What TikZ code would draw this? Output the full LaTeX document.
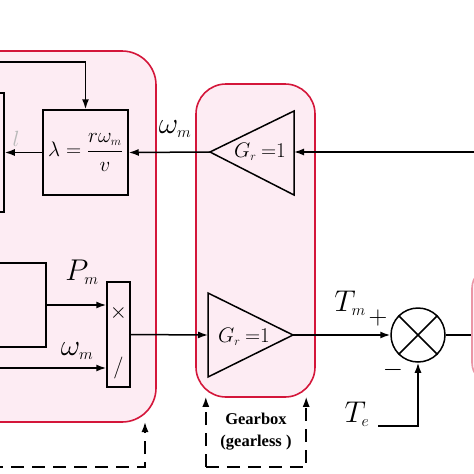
\RequirePackage{fix-cm}
\documentclass[tikz,border=0pt]{standalone}
\usepackage{fontspec}
\setmainfont{Liberation Serif}
\usetikzlibrary{arrows.meta, positioning, calc}
\definecolor{panelpink}{RGB}{253,236,243}
\definecolor{panelred}{RGB}{212,22,58}
\DeclareMathSizes{30}{30}{16}{12}
\DeclareMathSizes{21}{21}{12}{9}

\begin{document}
\begin{tikzpicture}[x=1pt, y=-1pt,
    panel/.style={draw=panelred, fill=panelpink, line width=1.6pt, rounded corners=34pt, inner sep=0pt},
    blk/.style={draw, line width=1.5pt, inner sep=0pt},
    sig/.style={-{Latex[length=10pt, width=7pt]}, line width=1.5pt},
    dsig/.style={sig, dash pattern=on 13pt off 8pt},
    biglbl/.style={font=\fontsize{30}{32}\selectfont, inner sep=0pt},
    gain/.style={font=\fontsize{21}{23}\selectfont, inner sep=0pt}]

    \clip (0,0) rectangle (474,474);

    % Panels
    \node[panel, minimum width=196pt, minimum height=371pt] (aero) at (58,236.5) {};
    \node[panel, minimum width=119pt, minimum height=313pt, rounded corners=30pt] (gear) at (255.5,240.5) {};
    \node[panel, draw=panelred!45, minimum width=100pt, minimum height=115pt, rounded corners=20pt] (grid) at (522,325.5) {};

    % Blocks in the aerodynamic panel
    \node[blk, minimum width=85pt, minimum height=85pt, font=\fontsize{21}{23}\selectfont] (lam) at (85.5,152.5)
        {$\displaystyle\lambda=\frac{r\omega_m}{v}$};
    \node[blk, minimum width=44pt, minimum height=119pt] (cp) at (-18,152.5) {};
    \node[blk, minimum width=86pt, minimum height=84pt] (pw) at (3,305) {};
    \node[blk, minimum width=23pt, minimum height=105pt] (mul) at (118.5,334.5) {};
    \node[font=\fontsize{22}{22}\selectfont, inner sep=0pt] (mtimes) at (118.5,313) {$\times$};
    \node[font=\fontsize{22}{22}\selectfont, inner sep=0pt] (mdiv) at (118.5,368) {$/$};

    % Gearbox gains
    \draw[blk, line join=miter] (210,152) -- (294,111) -- (294,195) -- cycle;
    \coordinate (g1tip) at (210,152);
    \coordinate (g1in) at (294,152);
    \node[gain] (g1) at (260,152) {$G_r\:{=}1$};
    \draw[blk, line join=miter] (208,293) -- (293,335) -- (208,377) -- cycle;
    \coordinate (g2in) at (208,335);
    \coordinate (g2tip) at (293,335);
    \node[gain] (g2) at (244,337) {$G_r\:{=}1$};

    % Summing junction
    \node[blk, circle, minimum size=54pt] (sum) at (418,335) {};
    \draw[line width=1.5pt] (sum.45) -- (sum.225) (sum.135) -- (sum.315);

    % Free ends
    \coordinate (wIn) at (480,152);
    \coordinate (vIn) at (-10,62);
    \coordinate (wmIn) at (-10,368);
    \coordinate (teIn) at (378,426);
    \coordinate (dIn) at (-10,467);
    \coordinate (dOut) at (145,422);

    % Signals
    \draw[sig] (wIn) -- (g1in);
    \draw[sig] (g1tip) -- (lam.east);
    \draw[sig] (vIn) -| (lam.north);
    \draw[sig] (lam.west) -- (cp.east);
    \draw[sig] (pw.east) -- (pw.east -| mul.west);
    \draw[sig] (wmIn) -- (wmIn -| mul.west);
    \draw[sig] (mul.east) -- (g2in);
    \draw[sig] (g2tip) -- (sum.west);
    \draw[sig] (teIn) -| (sum.south);
    \draw[line width=1.5pt] (sum.east) -- (grid.west |- sum.east);

    % Labels
    \node[biglbl] (wmtop) at (175,129) {$\omega_m$};
    \node[font=\fontsize{22}{22}\selectfont, text=gray!55, inner sep=0pt] (lamcut) at (16,139) {$l$};
    \node[biglbl] (pm) at (82,272) {$P_m$};
    \node[biglbl] (wmbot) at (77,351) {$\omega_m$};
    \node[biglbl] (tm) at (350,303) {$T_m$};
    \node[biglbl] (te) at (357,414) {$T_e$};
    \node[font=\fontsize{26}{26}\selectfont, inner sep=0pt] (plus) at (378,318) {$+$};
    \node[font=\fontsize{26}{26}\selectfont, inner sep=0pt] (minus) at (393,370) {$-$};

    % Gearbox note and dashed links
    \node[minimum width=100pt, minimum height=70pt, inner sep=0pt, align=center,
        font=\fontsize{16.5}{22}\selectfont\bfseries] (gbtxt) at (256,432) {Gearbox\\(gearless )};
    \draw[dsig] (gbtxt.south west) -- (gbtxt.north west);
    \draw[dsig] (gbtxt.south west) -- (gbtxt.south east) -- (gbtxt.north east);
    \draw[dsig] (dIn) -| (dOut);

\end{tikzpicture}
\end{document}
